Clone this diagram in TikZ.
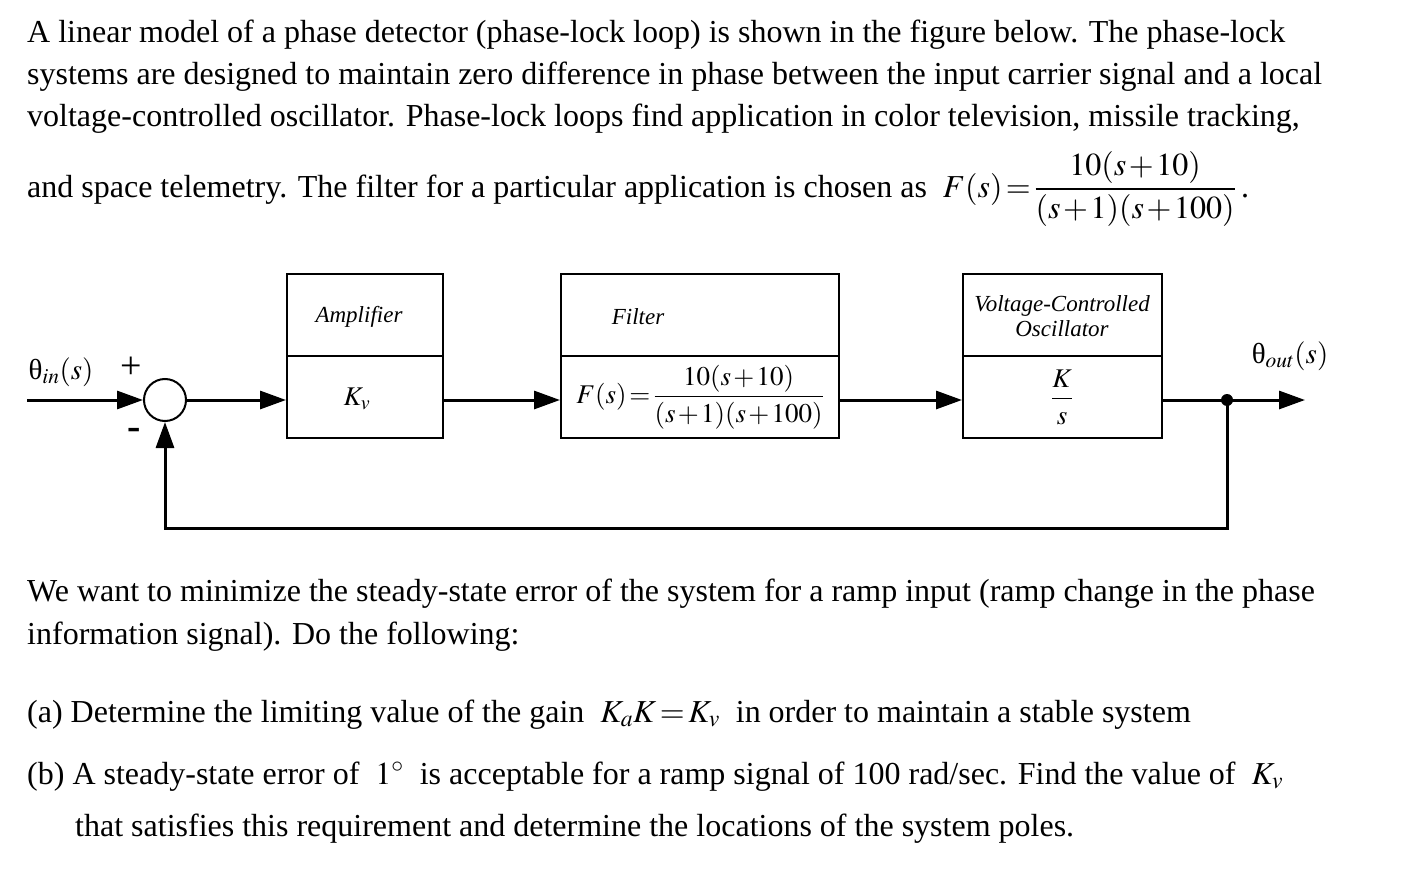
\documentclass[tikz,border=0pt]{standalone}
\usepackage{mathptmx}
\usepackage{fontspec}
\setmainfont{Liberation Serif}
\usetikzlibrary{arrows.meta}
\newcommand{\myfrac}[2]{{\displaystyle\frac{#1}{#2}}}
\thickmuskip=2mu plus 1mu
\medmuskip=1.5mu plus 1mu
\begin{document}
\begin{tikzpicture}[x=1pt,y=-1pt,
  body/.style={anchor=base west, inner sep=0, font=\fontsize{32}{38}\selectfont},
  boxlbl/.style={inner sep=0, font=\fontsize{23}{27}\selectfont\itshape, align=center},
  boxmath/.style={inner sep=0, font=\fontsize{27}{32}\selectfont},
  blk/.style={draw, line width=2pt, minimum height=164pt, inner sep=0},
  sig/.style={line width=3pt, -{Triangle[length=26pt,width=18pt]}},
  wire/.style={line width=3pt},
  sgn/.style={inner sep=0, font=\fontsize{38}{40}\selectfont},
  lbl/.style={inner sep=0, font=\fontsize{29}{34}\selectfont}]
\useasboundingbox (0,0) rectangle (1414,880);
% top text
\node[body] (t1) at (27,43) {A linear model of a phase detector (phase-lock loop) is shown in the figure below. The phase-lock};
\node[body] (t2) at (27,85) {systems are designed to maintain zero difference in phase between the input carrier signal and a local};
\node[body] (t3) at (27,127) {voltage-controlled oscillator. Phase-lock loops find application in color television, missile tracking,};
\node[body] (t4) at (27,197) {and space telemetry. The filter for a particular application is chosen as \ $F(s)=\myfrac{10(s+10)}{(s+1)(s+100)}$\,.};
% blocks
\node[blk, minimum width=156pt] (amp) at (365,356) {};
\node[blk, minimum width=278pt] (fil) at (700,356) {};
\node[blk, minimum width=199pt] (vco) at (1062.5,356) {};
\draw[line width=2pt] (amp.west) -- (amp.east);
\draw[line width=2pt] (fil.west) -- (fil.east);
\draw[line width=2pt] (vco.west) -- (vco.east);
\node[boxlbl] (ampl) at (359,317) {Amplifier};
\node[boxlbl] (fill) at (638,317) {Filter};
\node[boxlbl] (vcol) at (1062,316) {Voltage-Controlled\\[-2pt]Oscillator};
\node[boxmath] (ampm) at (357,399) {$K_v$};
\node[boxmath] (film) at (700,397) {$F(s)=\myfrac{10(s+10)}{(s+1)(s+100)}$};
\node[boxmath] (vcom) at (1062,397) {$\myfrac{K}{s}$};
% summing junction
\node[draw, circle, line width=2pt, minimum size=42pt, inner sep=0] (sum) at (165,400) {};
\coordinate (in) at (27,400);
\coordinate (out) at (1305,400);
\node[circle, fill, inner sep=0, minimum size=12pt] (tap) at (1227,400) {};
\draw[sig] (in) -- (sum.west);
\draw[sig] (sum.east) -- (sum.east -| amp.west);
\draw[sig] (amp.east |- sum) -- (sum -| fil.west);
\draw[sig] (fil.east |- sum) -- (sum -| vco.west);
\draw[wire] (vco.east |- sum) -- (tap.center);
\draw[sig] (tap.center) -- (out);
\draw[sig] (tap.center) -- ++(0,128) -| (sum.south);
\node[lbl] (thin) at (61,372) {θ$_{in}(s)$};
\node[lbl] (thout) at (1290,356) {θ$_{out}(s)$};
\node[sgn] (plus) at (131,368) {+};
\node[sgn, font=\fontsize{40}{40}\selectfont\bfseries] (minus) at (134,434) {-};
% bottom text
\node[body] (b1) at (27,601) {We want to minimize the steady-state error of the system for a ramp input (ramp change in the phase};
\node[body] (b2) at (27,644) {information signal). Do the following:};
\node[body] (b3) at (27,722) {(a) Determine the limiting value of the gain \ $K_aK=K_v$ \ in order to maintain a stable system};
\node[body] (b4) at (27,784) {(b) A steady-state error of \ $1^\circ$ \ is acceptable for a ramp signal of 100 rad/sec. Find the value of \ $K_v$};
\node[body] (b5) at (75,836) {that satisfies this requirement and determine the locations of the system poles.};
\end{tikzpicture}
\end{document}
